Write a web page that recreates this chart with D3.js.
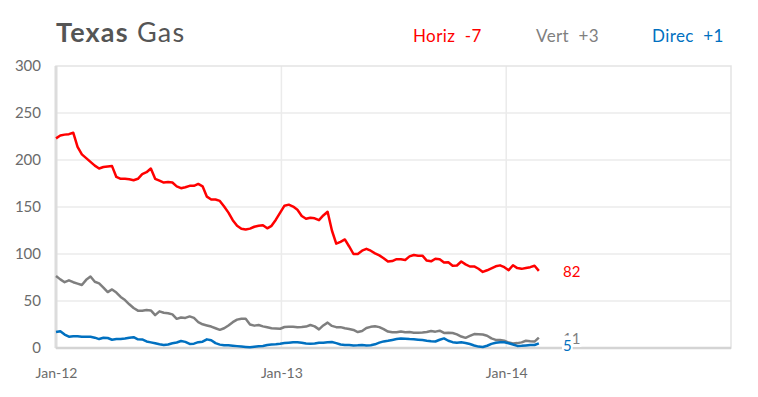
<!DOCTYPE html>
<html>
<head>
<meta charset="utf-8">
<script src="https://cdn.jsdelivr.net/npm/d3@7"></script>
<style>
  body { margin: 0; background: #fff; }
  svg text { font-family: Lato, "Open Sans", sans-serif; }
</style>
</head>
<body>
<svg id="chart" width="758" height="397"></svg>
<script>

// weekly rig counts, first week starting Jan 1 2012
var startDate = new Date(2012, 0, 1);

var horiz = [223,226,227,227.5,229,214,206,202,198,194,191,192.5,193,193.5,182,180,180,179.5,178.5,180,
  185,187,191,180,178,176,176.5,176,172,170,171,172.5,172.5,174.5,172,161,158,158,156.5,150.5,
  144,136,130,126.8,126,127,129,130,130.5,127.3,130,136.5,144,151.4,152.5,150.5,147,140.5,137.5,138.6,
  138,136,141,145,125,111,113,115.5,108,100,100,103.5,105.5,103.5,100.7,98.5,95.5,92,92.5,94.5,
  94.3,93.7,97.5,99,98.2,98.2,93,92.2,95,94.5,91,91.2,87.5,87.8,92,89,86.7,86.8,84.3,80.9,
  82.7,84.8,86.9,87.9,86,82.8,88,85,84.2,85.1,86,87.5,82];

var vert = [76.5,73,70,72,70,68.5,67,72.5,76,70.5,68.8,64.3,59.5,62.3,59,54.3,51,46.5,42.5,39.7,
  39.7,40.5,40,35,39,37.5,37,35.8,31,32.5,32,33.6,32,27.6,25.2,24,22.8,21,19.3,21,
  24,27.5,30.2,31.2,31,25,23.8,24.4,23,22,21,20.7,20.5,22.3,22.7,22.5,22,22.3,22.8,24.5,
  23,19.8,24,27,23.5,22.2,22.2,21,20.3,19.2,17,18,21.2,22.5,23.2,22.2,20,17.5,16.7,16.7,
  17.6,16.7,16.9,16.3,16.2,16.5,17,18,17.4,18.4,16,16.1,15.9,14.5,12.2,10.8,12.8,14.8,14.7,14.3,
  13.1,10.2,8.6,8.5,7.7,5.8,4.7,5.2,6,7.7,7.1,6.8,11];

var direc = [17,17.8,14.3,12,12.5,12.5,12,12,12,11,9.5,10.9,10.6,8.8,9.5,9.6,10.2,11,11.5,9.2,
  9.1,7,6,5,3.9,3.2,3.8,5.1,5.8,7.4,6.5,4.3,4.6,6.2,6.7,9.2,8.3,5.2,3.6,2.9,
  2.9,2.5,2,1.5,1.1,0.8,1.3,1.8,2.2,3.2,3.7,4,4.6,5.4,5.7,6.1,6.1,5.6,4.9,4.5,
  4.9,5.6,5.6,6.2,6.3,5.2,3.7,3.2,3.1,2.7,2.8,3.1,2.7,3,3.9,5.7,7,7.7,8.6,9.5,
  10.2,9.9,9.5,9.3,8.9,8.4,7.6,7.1,6.9,8.8,10.2,7.7,6.2,5.6,6,5.4,4.2,2.7,1.5,1,
  2.4,4.4,5.6,6.1,6.1,5,3.7,2.2,2.3,2.7,3.2,3.2,5];

var seriesNames = ["Horiz", "Vert", "Direc"];
var weeklyChange = ["-7", "+3", "+1"];
var seriesColors = ["#ff0000", "#7f7f7f", "#0070c0"];
var yTicks = [0, 50, 100, 150, 200, 250, 300];
var xTickDates = [new Date(2012, 0, 1), new Date(2013, 0, 1), new Date(2014, 0, 1)];

var svg = d3.select("#chart");
var plotLeft = 56, plotRight = 731, plotTop = 66, plotBottom = 348;

var x = d3.scaleTime()
  .domain([new Date(2012, 0, 1), new Date(2015, 0, 1)])
  .range([plotLeft, plotRight]);
var y = d3.scaleLinear().domain([0, 300]).range([plotBottom, plotTop]);

var dates = horiz.map(function(d, i) { return d3.timeDay.offset(startDate, 7 * i); });

// title
var title = svg.append("text").attr("x", 56).attr("y", 42)
  .attr("fill", "#555").style("font-size", "27px").style("letter-spacing", "1.2px");
title.append("tspan").style("font-weight", "bold").text("Texas");
title.append("tspan").text(" Gas");

// legend
var legendX = [413, 536, 652];
seriesNames.forEach(function(name, i) {
  svg.append("text")
    .attr("x", legendX[i]).attr("y", 42)
    .attr("fill", seriesColors[i])
    .style("font-size", "17px")
    .style("letter-spacing", "0.4px")
    .style("white-space", "pre")
    .text(name + "  " + weeklyChange[i]);
});

// grid
svg.append("g").selectAll("line")
  .data(yTicks.slice(1, -1))
  .enter().append("line")
  .attr("x1", plotLeft).attr("x2", plotRight)
  .attr("y1", function(d) { return y(d); }).attr("y2", function(d) { return y(d); })
  .attr("stroke", "#ebebeb").attr("stroke-width", 1.5);

svg.append("g").selectAll("line")
  .data(xTickDates.slice(1))
  .enter().append("line")
  .attr("x1", function(d) { return x(d); }).attr("x2", function(d) { return x(d); })
  .attr("y1", plotTop).attr("y2", plotBottom)
  .attr("stroke", "#ebebeb").attr("stroke-width", 1.5);

// frame
svg.append("rect")
  .attr("x", plotLeft).attr("y", plotTop)
  .attr("width", plotRight - plotLeft).attr("height", plotBottom - plotTop)
  .attr("fill", "none").attr("stroke", "#e3e3e3").attr("stroke-width", 1.5);
svg.append("line").attr("x1", plotLeft).attr("x2", plotLeft).attr("y1", plotTop).attr("y2", plotBottom)
  .attr("stroke", "#dcdcdc").attr("stroke-width", 3);
svg.append("line").attr("x1", plotLeft).attr("x2", plotRight).attr("y1", plotBottom).attr("y2", plotBottom)
  .attr("stroke", "#d4d4d4").attr("stroke-width", 2.5);

// axes
var yAxis = d3.axisLeft(y).tickValues(yTicks).tickSize(0).tickPadding(15);
svg.append("g").attr("transform", "translate(" + plotLeft + ",0)").call(yAxis)
  .call(function(g) { g.select(".domain").remove(); })
  .selectAll("text")
  .attr("fill", "#6b6b6b").style("font-size", "15px")
  .style("font-family", "Lato, sans-serif");

var xAxis = d3.axisBottom(x).tickValues(xTickDates).tickSize(0).tickPadding(20)
  .tickFormat(d3.timeFormat("%b-%y"));
svg.append("g").attr("transform", "translate(0," + plotBottom + ")").call(xAxis)
  .call(function(g) { g.select(".domain").remove(); })
  .selectAll("text")
  .attr("fill", "#6b6b6b").style("font-size", "14px")
  .style("font-family", "Lato, sans-serif");

// lines
var line = d3.line()
  .x(function(d, i) { return x(dates[i]); })
  .y(function(d) { return y(d); });

var allSeries = [horiz, vert, direc];
[vert, direc, horiz].forEach(function(s) {
  var i = allSeries.indexOf(s);
  svg.append("path")
    .datum(s)
    .attr("d", line)
    .attr("fill", "none")
    .attr("stroke", seriesColors[i])
    .attr("stroke-width", 2.5)
    .attr("stroke-linejoin", "round");
});

// end labels, blue drawn last so it sits on top of gray
var labelDy = [1, 1, 2];
allSeries.forEach(function(s, i) {
  var last = s[s.length - 1];
  var g = svg.append("g")
    .attr("transform", "translate(563," + (y(last) + labelDy[i]) + ")");
  var t = g.append("text")
    .attr("dy", "0.35em")
    .attr("fill", seriesColors[i])
    .style("font-size", "15px")
    .text(Math.round(last));
  var bb = t.node().getBBox();
  g.insert("rect", "text")
    .attr("x", bb.x - 1).attr("y", bb.y).attr("width", bb.width + 2).attr("height", bb.height)
    .attr("fill", "#fff");
});

</script>
</body>
</html>
